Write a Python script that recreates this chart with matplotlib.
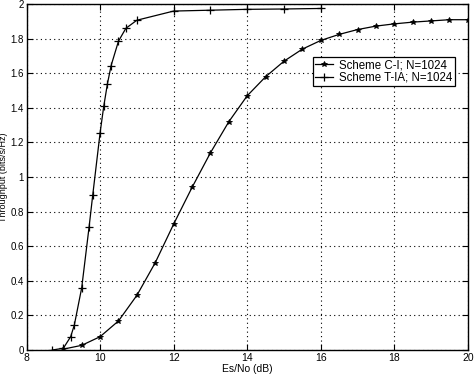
import matplotlib
matplotlib.use("Agg")
import matplotlib.pyplot as plt

# Scheme C-I, N=1024
ci_x = [9.0, 9.5, 10.0, 10.5, 11.0, 11.5, 12.0, 12.5, 13.0, 13.5, 14.0, 14.5, 15.0,
        15.5, 16.0, 16.5, 17.0, 17.5, 18.0, 18.5, 19.0, 19.5, 20.0]
ci_y = [0.005, 0.027, 0.077, 0.168, 0.316, 0.505, 0.728, 0.94, 1.14, 1.32, 1.47, 1.58,
        1.67, 1.74, 1.79, 1.825, 1.853, 1.873, 1.886, 1.896, 1.903, 1.91, 1.91]

# Scheme T-IA, N=1024
tia_x = [8.7, 9.0, 9.2, 9.3, 9.5, 9.7, 9.8, 10.0, 10.1, 10.2, 10.3, 10.5, 10.7, 11.0,
         12.0, 13.0, 14.0, 15.0, 16.0]
tia_y = [0.0, 0.01, 0.077, 0.145, 0.36, 0.71, 0.896, 1.256, 1.41, 1.54, 1.645, 1.786,
         1.86, 1.907, 1.96, 1.965, 1.97, 1.972, 1.975]

x_ticks = [8, 10, 12, 14, 16, 18, 20]
y_ticks = [0, 0.2, 0.4, 0.6, 0.8, 1, 1.2, 1.4, 1.6, 1.8, 2]
y_labels = ["0", "0.2", "0.4", "0.6", "0.8", "1", "1.2", "1.4", "1.6", "1.8", "2"]

plt.rcParams['font.family'] = ['Liberation Sans', 'DejaVu Sans']
fig = plt.figure(figsize=(4.74, 3.77), dpi=100)
ax = fig.add_axes([0.056, 0.0716, 0.931, 0.9174])

ax.plot(ci_x, ci_y, color='black', lw=0.9, marker='*', ms=4, mew=0.6,
        label='Scheme C-I; N=1024')
ax.plot(tia_x, tia_y, color='black', lw=0.9, marker='+', ms=6, mew=0.9,
        label='Scheme T-IA; N=1024')

ax.set_xlim(8, 20)
ax.set_ylim(0, 2)
ax.set_xticks(x_ticks)
ax.set_yticks(y_ticks)
ax.set_yticklabels(y_labels)
ax.tick_params(axis='x', direction='in', labelsize=7.5, length=4, width=0.8, pad=2,
               top=True)
ax.tick_params(axis='y', direction='in', labelsize=7, length=4, width=0.8, pad=2,
               right=True)
ax.grid(True, linestyle=(0, (1, 3)), color='black', lw=0.8)
for s in ax.spines.values():
    s.set_linewidth(1.0)

ax.set_xlabel('Es/No (dB)', fontsize=7.5, labelpad=1)
ax.set_ylabel('Throughput (bits/s/Hz)', fontsize=6.5)
ax.yaxis.set_label_coords(-0.042, 0.5)

leg = ax.legend(loc='upper left', bbox_to_anchor=(0.648, 0.848), fontsize=8.3,
                frameon=True, fancybox=False, edgecolor='black', framealpha=1,
                borderpad=0.2, handlelength=1.6, labelspacing=0.05,
                handletextpad=0.5, borderaxespad=0)
leg.get_frame().set_linewidth(0.9)

fig.savefig('out.png', dpi=100)
